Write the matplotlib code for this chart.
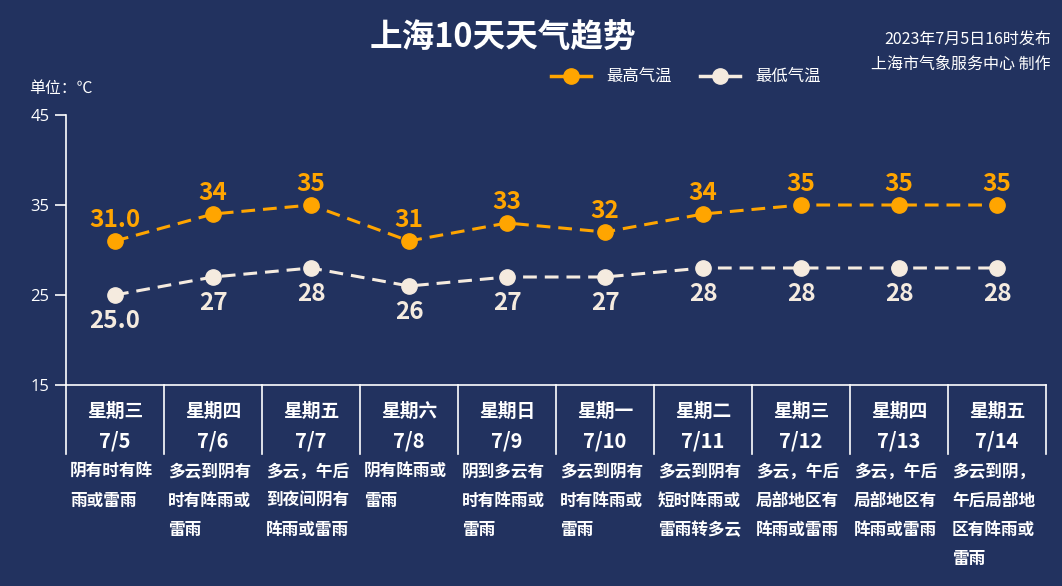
import matplotlib
matplotlib.use("Agg")
import matplotlib.pyplot as plt
from matplotlib.lines import Line2D

plt.rcParams['font.family'] = ['Noto Sans CJK SC', 'DejaVu Sans']

weekdays = ["星期三", "星期四", "星期五", "星期六", "星期日", "星期一", "星期二", "星期三", "星期四", "星期五"]
dates = ["7/5", "7/6", "7/7", "7/8", "7/9", "7/10", "7/11", "7/12", "7/13", "7/14"]
high = [31, 34, 35, 31, 33, 32, 34, 35, 35, 35]
low = [25, 27, 28, 26, 27, 27, 28, 28, 28, 28]
high_labels = ["31.0", "34", "35", "31", "33", "32", "34", "35", "35", "35"]
low_labels = ["25.0", "27", "28", "26", "27", "27", "28", "28", "28", "28"]
descs = [
    "阴有时有阵\n雨或雷雨",
    "多云到阴有\n时有阵雨或\n雷雨",
    "多云，午后\n到夜间阴有\n阵雨或雷雨",
    "阴有阵雨或\n雷雨",
    "阴到多云有\n时有阵雨或\n雷雨",
    "多云到阴有\n时有阵雨或\n雷雨",
    "多云到阴有\n短时阵雨或\n雷雨转多云",
    "多云，午后\n局部地区有\n阵雨或雷雨",
    "多云，午后\n局部地区有\n阵雨或雷雨",
    "多云到阴，\n午后局部地\n区有阵雨或\n雷雨",
]
series_names = ["最高气温", "最低气温"]
yticks = [15, 25, 35, 45]

BG = "#22325F"
ORANGE = "#FFA500"
CREAM = "#F5EBDF"
W, H = 1062, 586

fig = plt.figure(figsize=(W / 100, H / 100), dpi=100, facecolor=BG)
ax_l, ax_r, ax_t, ax_b = 66, 1046, 115, 385
ax = fig.add_axes([ax_l / W, 1 - ax_b / H, (ax_r - ax_l) / W, (ax_b - ax_t) / H])
ax.set_facecolor(BG)
n = len(dates)
x = list(range(n))
ax.set_xlim(-0.5, n - 0.5)
ax.set_ylim(15, 45)

for spine in ["top", "right"]:
    ax.spines[spine].set_visible(False)
ax.spines["left"].set_color("white")
ax.spines["bottom"].set_color("white")
ax.spines["left"].set_linewidth(1.2)
ax.spines["bottom"].set_linewidth(1.2)
ax.set_yticks(yticks)
ax.set_yticklabels([str(v) for v in yticks], color="white", fontsize=12,
                   family=['Open Sans', 'DejaVu Sans'])
ax.tick_params(axis="y", colors="white", length=8, width=1.2, pad=4)
ax.set_xticks([])

dash = (4.5, 2.6)
ax.plot(x, high, color=ORANGE, lw=2.2, ls=(0, dash), marker="o", ms=11,
        markerfacecolor=ORANGE, markeredgecolor=ORANGE, zorder=3)
ax.plot(x, low, color=CREAM, lw=2.2, ls=(0, dash), marker="o", ms=11,
        markerfacecolor=CREAM, markeredgecolor=CREAM, zorder=3)

for xi, v, lab in zip(x, high, high_labels):
    ax.annotate(lab, (xi, v), xytext=(0, 10), textcoords="offset points",
                ha="center", va="baseline", color=ORANGE, fontsize=17.5, fontweight="bold")
for xi, v, lab in zip(x, low, low_labels):
    ax.annotate(lab, (xi, v), xytext=(0, -24), textcoords="offset points",
                ha="center", va="baseline", color=CREAM, fontsize=17.5, fontweight="bold")

# table below axis
trans = ax.get_xaxis_transform()
tab_bottom = -(454 - ax_b) / (ax_b - ax_t)
for i in range(n + 1):
    ax.plot([i - 0.5, i - 0.5], [0, tab_bottom], color="white", lw=1.2,
            transform=trans, clip_on=False)

def fy(py):
    return 1 - py / H

for i in range(n):
    xc = (ax_l + (i + 0.5) * (ax_r - ax_l) / n) / W
    fig.text(xc, fy(411), weekdays[i], ha="center", va="center", color="white",
             fontsize=13.5, fontweight="bold")
    fig.text(xc, fy(441), dates[i], ha="center", va="center", color="white",
             fontsize=14.5, fontweight="bold")
    xl = (ax_l + i * (ax_r - ax_l) / n + 4) / W
    fig.text(xl, fy(463), descs[i], ha="left", va="top", color="white",
             fontsize=12, fontweight="bold", linespacing=1.78)

fig.text(503 / W, fy(38), "上海10天天气趋势", ha="center", va="center",
         color="white", fontsize=23.5, fontweight="bold")
fig.text(1051 / W, fy(39), "2023年7月5日16时发布", ha="right", va="center",
         color="white", fontsize=11.5)
fig.text(1051 / W, fy(64), "上海市气象服务中心 制作", ha="right", va="center",
         color="white", fontsize=11.5)
fig.text(29 / W, fy(88), "单位：℃", ha="left", va="center", color="white", fontsize=11.4)

# legend
for (x0, x1, tx), col, name in zip([(551, 591, 606), (700, 740, 755)], [ORANGE, CREAM], series_names):
    fig.add_artist(Line2D([x0 / W, x1 / W], [fy(76), fy(76)], color=col, lw=2.5))
    fig.add_artist(Line2D([(x0 + x1) / 2 / W], [fy(76)], marker="o", ms=11,
                          color=col, markeredgecolor=col))
    fig.text(tx / W, fy(76), name, ha="left", va="center", color="white", fontsize=11.8)

fig.savefig("out.png", dpi=100, facecolor=BG)
